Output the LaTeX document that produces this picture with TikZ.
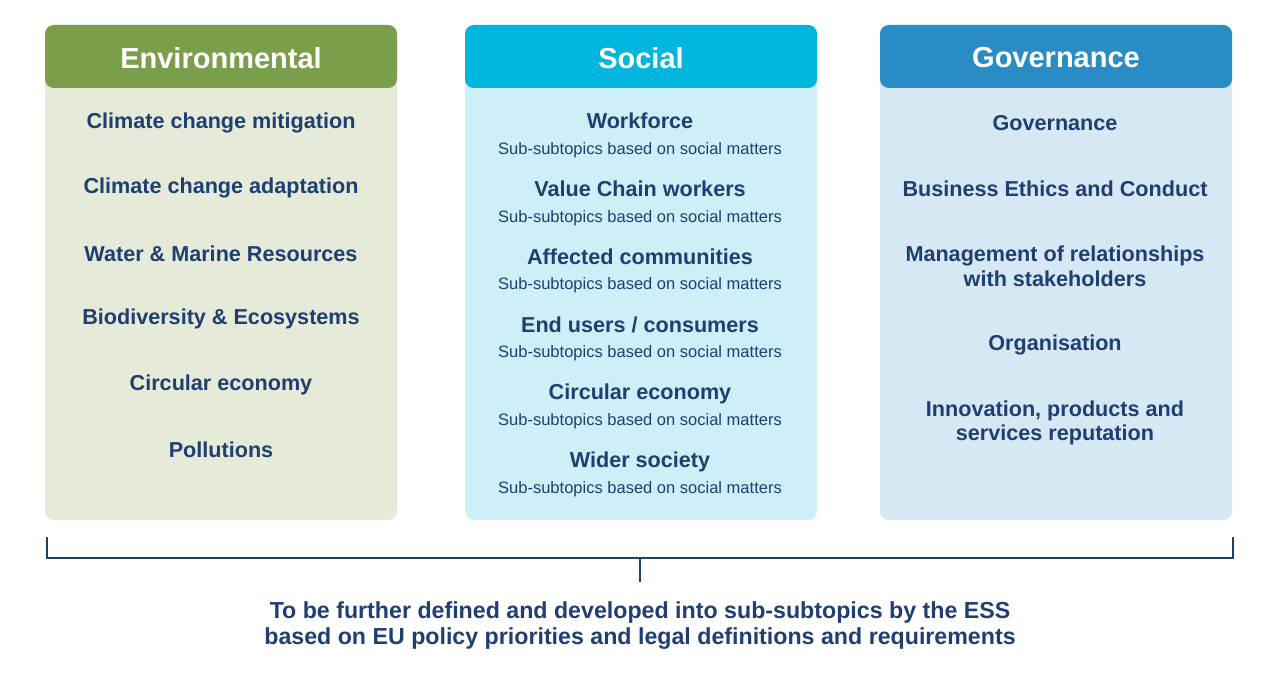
\documentclass[tikz,border=0pt]{standalone}
\usepackage{fontspec}
\setmainfont{Liberation Sans}
\definecolor{esgblue}{HTML}{1F3F73}
\definecolor{envhead}{HTML}{7A9E4A}
\definecolor{envbody}{HTML}{E5EAD9}
\definecolor{sochead}{HTML}{00B5DE}
\definecolor{socbody}{HTML}{CDEFF8}
\definecolor{govhead}{HTML}{2A8CC4}
\definecolor{govbody}{HTML}{D6E8F3}
\tikzset{
  colbody/.style={rounded corners=5pt},
  coltitle/.style={font=\fontsize{16.5}{18}\selectfont\bfseries, text=white},
  item/.style={font=\fontsize{12.3}{14}\selectfont\bfseries, text=esgblue, align=center},
  subitem/.style={font=\fontsize{9.4}{10}\selectfont, text=esgblue},
  socitem/.style={item, text height=9pt, text depth=2.6pt},
  note/.style={font=\fontsize{13.2}{14.8}\selectfont\bfseries, text=esgblue, align=center},
}
\begin{document}
\begin{tikzpicture}[x=0.02cm,y=-0.02cm]
\useasboundingbox (0,0) rectangle (1280,688);
% Columnas
\fill[envbody, colbody] (45,25) rectangle (397,520);
\fill[envhead, colbody] (45,25) -| (397,88) -- (45,88) -- cycle;
\fill[socbody, colbody] (465,25) rectangle (817,520);
\fill[sochead, colbody] (465,25) -| (817,88) -- (465,88) -- cycle;
\fill[govbody, colbody] (880,25) rectangle (1232,520);
\fill[govhead, colbody] (880,25) -| (1232,88) -- (880,88) -- cycle;
\node[coltitle] (env) at (221,58) {Environmental};
\node[coltitle] (soc) at (641,58) {Social};
\node[coltitle] (gov) at (1056,58) {Governance};
% Environmental
\foreach \t [count=\i] in {Climate change mitigation, Climate change adaptation,
  Water \& Marine Resources, Biodiversity \& Ecosystems, Circular economy, Pollutions}
  \node[item] (env\i) at (221,{123+(\i-1)*65.4}) {\t};
% Social
\foreach \t [count=\i] in {Workforce, Value Chain workers, Affected communities,
  End users / consumers, Circular economy, Wider society}{
  \node[socitem] (soc\i) at (640,{123+(\i-1)*67.8}) {\t};
  \node[subitem] (sub\i) at (640,{150+(\i-1)*67.8}) {Sub-subtopics based on social matters};
}
% Governance
\node[item] (gov1) at (1055,123) {Governance};
\node[item] (gov2) at (1055,189) {Business Ethics and Conduct};
\node[item] (gov3) at (1055,266) {Management of relationships\\with stakeholders};
\node[item] (gov4) at (1055,345) {Organisation};
\node[item] (gov5) at (1055,423) {Innovation, products and\\services reputation};
% Llave
\coordinate (bl) at (47,537);
\coordinate (br) at (1233,537);
\coordinate (bm) at (640,558);
\draw[esgblue, line width=0.8pt] (bl) |- (br |- bm) -- (br);
\draw[esgblue, line width=0.8pt] (bm) -- ++(0,24);
\node[note] (nota) at (640,626) {To be further defined and developed into sub-subtopics by the ESS\\based on EU policy priorities and legal definitions and requirements};
\end{tikzpicture}
\end{document}
